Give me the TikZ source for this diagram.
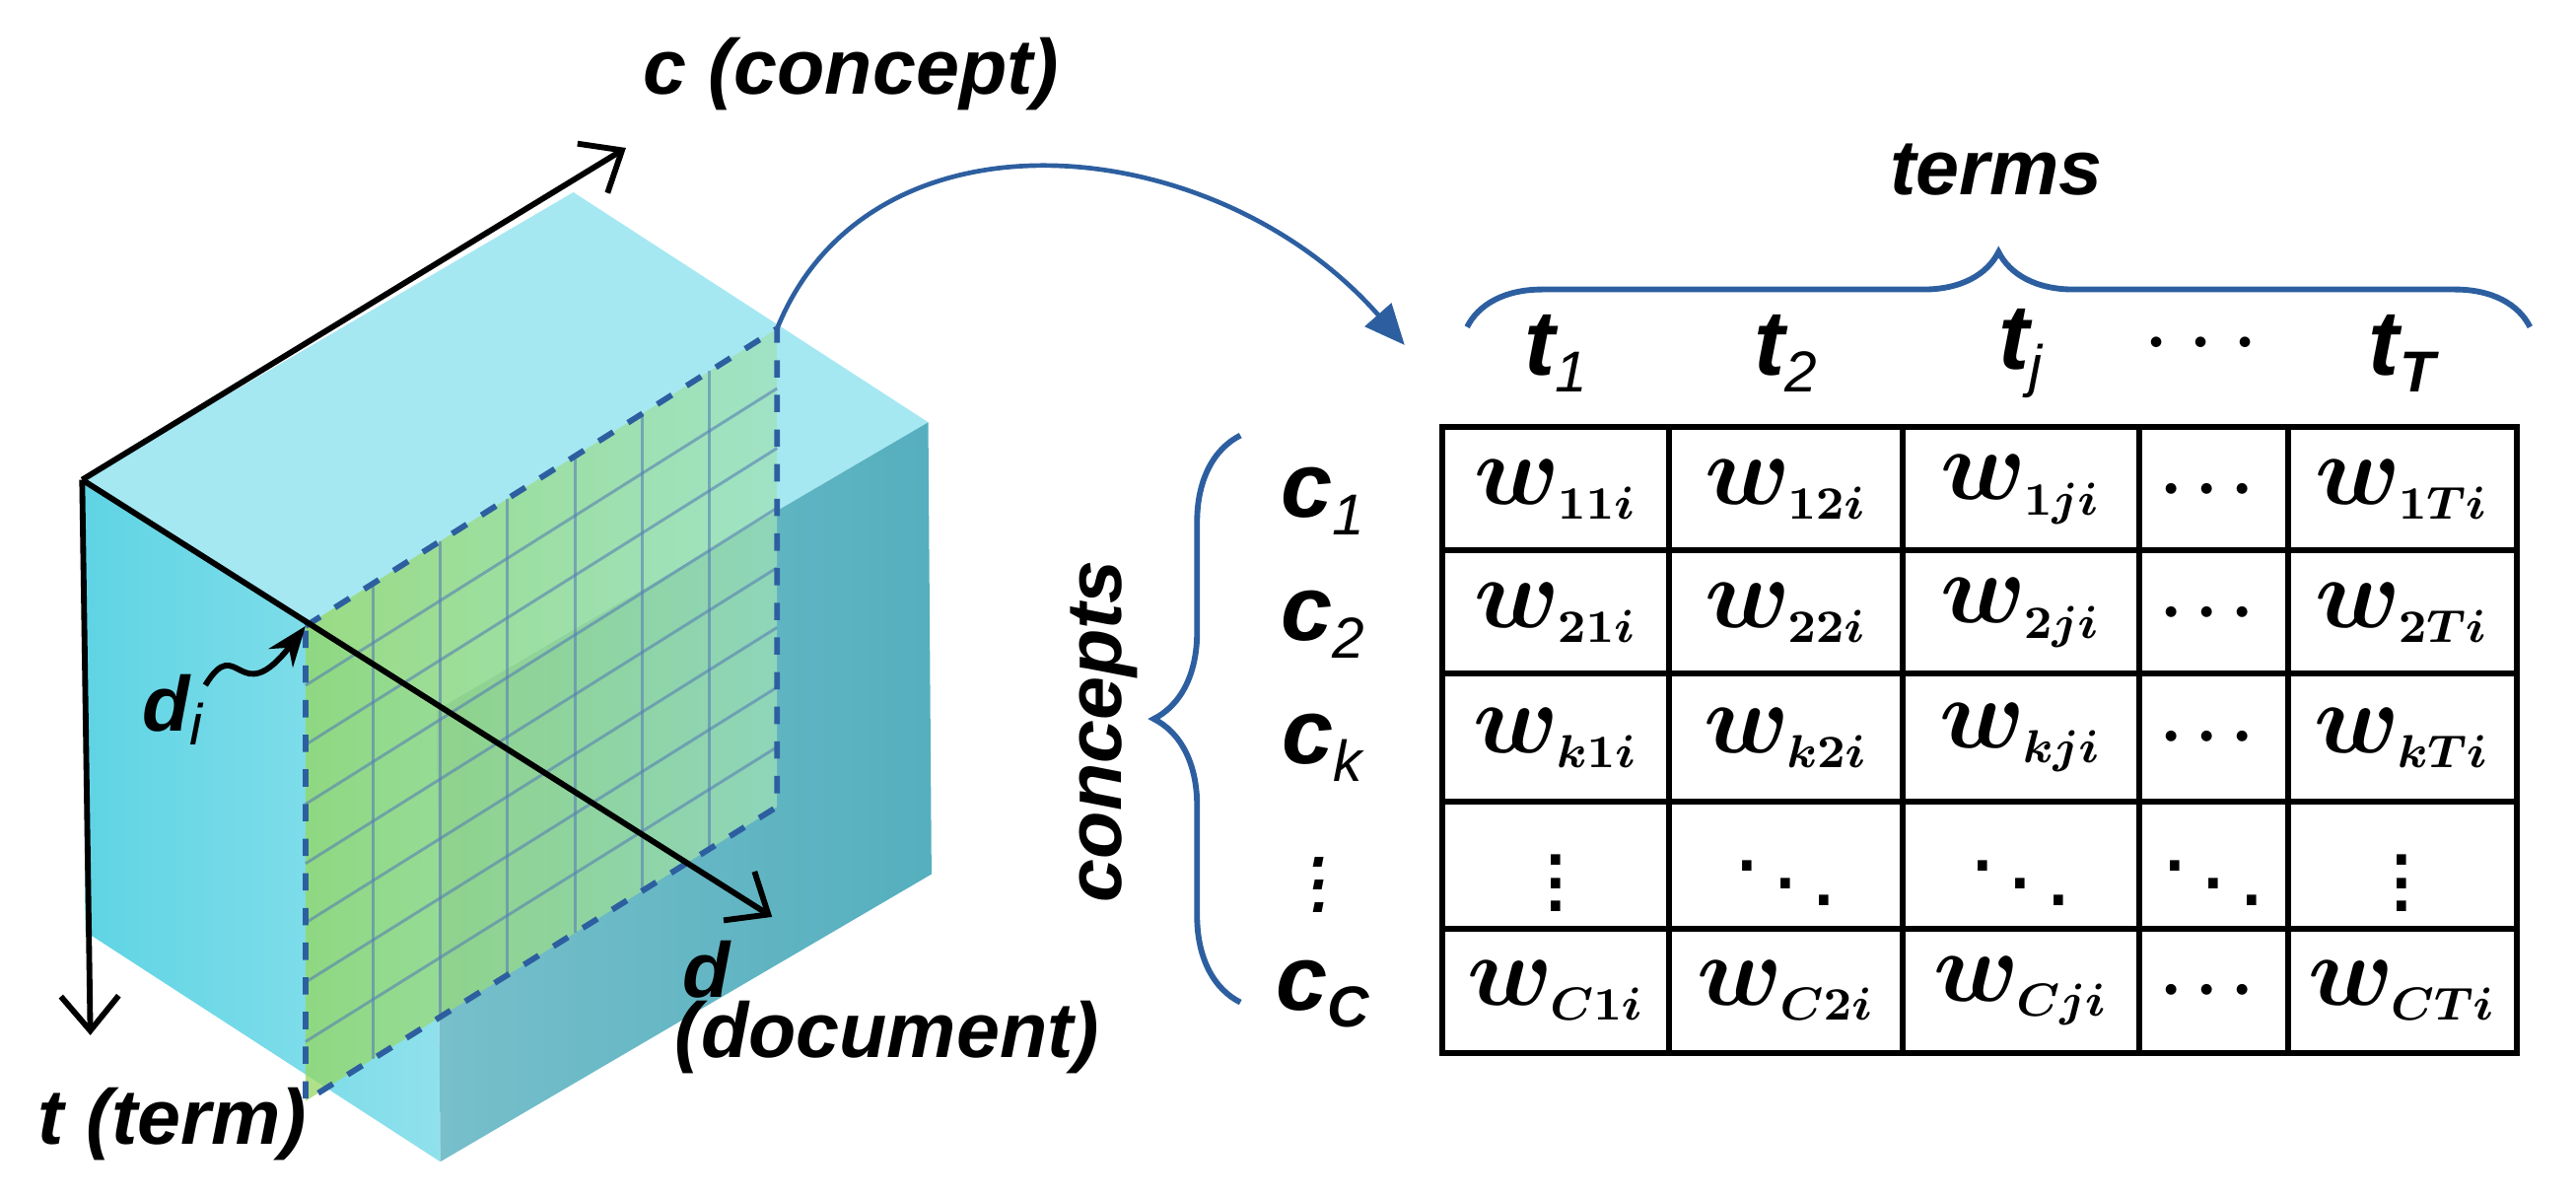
\documentclass[tikz,border=0pt]{standalone}
\usepackage{amsmath}
\usepackage{amssymb}
\usepackage{bm}
\usepackage{fontspec}
\setmainfont{Liberation Sans}
\usetikzlibrary{calc}
\usetikzlibrary{decorations.pathreplacing}
\usetikzlibrary{arrows.meta}
\definecolor{topface}{RGB}{165,232,242}
\definecolor{leftface}{RGB}{95,212,228}
\definecolor{rightface}{RGB}{85,175,190}
\definecolor{slicegreen}{RGB}{150,215,95}
\definecolor{braceblue}{RGB}{45,95,160}
\tikzset{
  lbl/.style={font=\fontsize{13.5}{15}\selectfont\bfseries\itshape},
  hdr/.style={font=\fontsize{16}{18}\selectfont\bfseries\itshape},
  cell/.style={font=\fontsize{17}{19}\selectfont},
  grd/.style={draw=braceblue!80,line width=0.5pt,opacity=0.6},
  dsh/.style={draw=braceblue,dashed,line width=1pt},
}
\newcommand{\hsub}[2]{#1\raisebox{-0.35ex}{\fontsize{10}{10}\selectfont\mdseries #2}}
\newcommand{\wsub}[1]{\bm{w}_{\scriptscriptstyle\bm{#1}}}
\newcommand{\bdots}{\textbf{\fontsize{13}{13}\selectfont$\bm{\cdots}$}}
\begin{document}
\begin{tikzpicture}
    \useasboundingbox (0,0) rectangle (15.68,7.29);
    % cube
    \coordinate (O) at (0.50,4.37);
    \coordinate (B) at (3.49,6.12);
    \coordinate (C) at (5.65,4.72);
    \coordinate (D) at (2.66,2.97);
    \coordinate (O') at (0.52,1.62);
    \coordinate (D') at (2.68,0.22);
    \coordinate (C') at (5.67,1.97);
    \fill[topface] (O)--(B)--(C)--(D)--cycle;
    \shade[left color=leftface, right color=leftface!70!white] (O)--(D)--(D')--(O')--cycle;
    \shade[left color=rightface!80!white, right color=rightface] (D)--(C)--(C')--(D')--cycle;
    % slice
    \coordinate (S1) at (1.86,3.48);
    \coordinate (S2) at (4.73,5.29);
    \coordinate (S3) at (4.73,2.38);
    \coordinate (S4) at (1.86,0.59);
    \shade[left color=slicegreen, right color=slicegreen!40!topface, opacity=0.75] (S1)--(S2)--(S3)--(S4)--cycle;
    \foreach \u in {1,...,6}
        \draw[grd] ($(S1)!\u/7!(S2)$) -- ($(S4)!\u/7!(S3)$);
    \foreach \v in {1,...,7}
        \draw[grd] ($(S1)!\v/8!(S4)$) -- ($(S2)!\v/8!(S3)$);
    \draw[dsh] (S1)--(S2)--(S3)--(S4)--cycle;
    % axes
    \coordinate (cend) at (3.81,6.39);
    \coordinate (tend) at (0.55,0.99);
    \coordinate (dend) at (4.70,1.71);
    \draw[-{Straight Barb[length=6pt,width=10pt]},line width=1pt] (O)--(cend);
    \draw[-{Straight Barb[length=6pt,width=10pt]},line width=1pt] (O)--(tend);
    \draw[-{Straight Barb[length=6pt,width=10pt]},line width=1pt] (O)--(dend);
    \node[lbl] (clbl) at (5.18,6.84) {c (concept)};
    \node[lbl] (tlbl) at (1.05,0.45) {t (term)};
    \node[lbl] (dlbl) at (4.30,1.39) {d};
    \node[lbl] (doclbl) at (5.40,0.98) {(document)};
    \node[lbl] (dilbl) at (1.05,2.97) {\hsub{d}{\itshape i}};
    \draw[-{Stealth[length=7pt]},line width=1pt] (1.25,3.12) .. controls (1.45,3.45) and (1.45,2.95) .. (S1);
    % link to matrix
    \coordinate (arr) at (8.55,5.19);
    \draw[braceblue,line width=0.8pt,-{Triangle[length=7pt,width=6pt]}] (S2) .. controls (5.3,6.7) and (7.4,6.5) .. (arr);
    % table
    \draw[line width=1pt] (8.78,0.88) rectangle (15.32,4.69);
    \foreach \x in {10.16,11.58,13.02,13.93}
        \draw[line width=1pt] (\x,0.88)--(\x,4.69);
    \foreach \y in {3.94,3.19,2.41,1.64}
        \draw[line width=1pt] (8.78,\y)--(15.32,\y);
    % headers
    \node[hdr] (t1) at (9.47,5.14) {\hsub{t}{1}};
    \node[hdr] (t2) at (10.87,5.14) {\hsub{t}{2}};
    \node[hdr] (tj) at (12.30,5.14) {\hsub{t}{j}};
    \node[hdr] (tdots) at (13.45,5.19) {\mdseries$\cdots$};
    \node[hdr] (tT) at (14.62,5.14) {\hsub{t}{\bfseries T}};
    \node[hdr] (c1) at (8.05,4.24) {\hsub{c}{1}};
    \node[hdr] (c2) at (8.05,3.49) {\hsub{c}{2}};
    \node[hdr] (ck) at (8.05,2.74) {\hsub{c}{k}};
    \node[hdr] (cdots) at (8.05,2.01) {\mdseries$\vdots$};
    \node[hdr] (cC) at (8.05,1.24) {\hsub{c}{\bfseries C}};
    % cells
    \foreach \r/\y/\a/\b/\c/\d/\e in {
        1/4.31/\wsub{11i}/\wsub{12i}/\wsub{1ji}/\bdots/\wsub{1Ti},
        2/3.56/\wsub{21i}/\wsub{22i}/\wsub{2ji}/\bdots/\wsub{2Ti},
        3/2.80/\wsub{k1i}/\wsub{k2i}/\wsub{kji}/\bdots/\wsub{kTi},
        4/2.02/\vdots/\ddots/\ddots/\ddots/\vdots,
        5/1.26/\wsub{C1i}/\wsub{C2i}/\wsub{Cji}/\bdots/\wsub{CTi}} {
        \node[cell] (w\r a) at (9.47,\y) {$\a$};
        \node[cell] (w\r b) at (10.87,\y) {$\b$};
        \node[cell] (w\r c) at (12.30,\y) {$\c$};
        \node[cell] (w\r d) at (13.475,\y) {$\d$};
        \node[cell] (w\r e) at (14.62,\y) {$\e$};
    }
    % braces
    \draw[braceblue,line width=1pt,decorate,decoration={brace,amplitude=13pt}] (8.93,5.30)--(15.40,5.30);
    \node[lbl] (terms) at (12.15,6.26) {terms};
    \draw[braceblue,line width=1pt,decorate,decoration={brace,amplitude=15pt}] (7.55,1.19)--(7.55,4.64);
    \node[lbl,rotate=90] (concepts) at (6.72,2.84) {concepts};
\end{tikzpicture}
\end{document}
